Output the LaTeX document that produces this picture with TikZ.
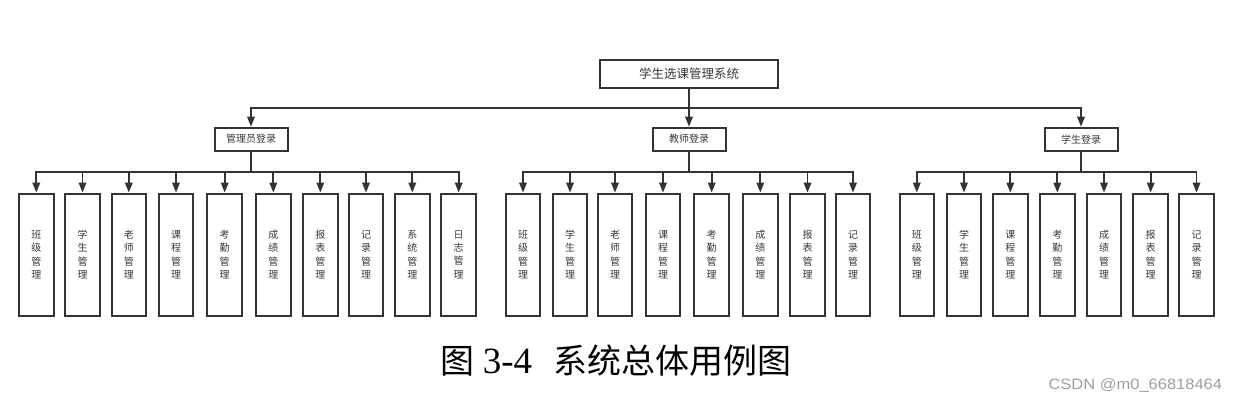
\documentclass[tikz,border=0pt]{standalone}
\usepackage{fontspec}
\setmainfont{Noto Sans CJK SC}
\newfontfamily\markfont[FakeStretch=1.1]{Liberation Sans}
\newfontfamily\capdigits{Liberation Serif}
\usetikzlibrary{arrows.meta}
\definecolor{linegray}{HTML}{333333}

\begin{document}
\begin{tikzpicture}[x=1pt,y=-1pt,->,>={Triangle[length=10pt,width=7.5pt]},draw=linegray,line width=1.8pt]
    \tikzstyle{box}=[draw=linegray,line width=2pt,rectangle,inner sep=0pt,text=black!78]
    \tikzstyle{root box}=[box,minimum width=178pt,minimum height=27.5pt,font=\fontsize{12.5}{14}\selectfont]
    \tikzstyle{login box}=[box,minimum width=73pt,minimum height=23pt,font=\fontsize{10}{12}\selectfont]
    \tikzstyle{leaf box}=[box,minimum width=34.5pt,minimum height=122pt,align=center,font=\fontsize{10}{13.3}\selectfont]
    \useasboundingbox (0,0) rectangle (1239,403);
    % Draw the root and the three login nodes
    \node[root box] (sys) at (689,74) {学生选课管理系统};
    \node[login box] (adm) at (251,139.2) {管理员登录};
    \node[login box] (tea) at (689,139.2) {教师登录};
    \node[login box] (stu) at (1081,139.2) {学生登录};
    \coordinate (sys-bus) at (689,107.7);
    \draw (sys.south) -- (tea.north);
    \draw (sys-bus) -| (adm.north);
    \draw (sys-bus) -| (stu.north);
    % Draw the leaf nodes of each login
    \coordinate (adm-bus) at (251,172);
    \coordinate (tea-bus) at (689,172);
    \coordinate (stu-bus) at (1081,172);
    \foreach \a/\b/\x [count=\i] in {班/级/36.3, 学/生/82.5, 老/师/128.8, 课/程/176, 考/勤/224.7,
                                      成/绩/273.3, 报/表/320.3, 记/录/366, 系/统/412.3, 日/志/458.7}
    {
        \node[leaf box] (A-\i) at (\x,254.6) {\a\\\b\\管\\理};
        \draw (adm.south) -- (adm-bus) -| (A-\i.north);
    }
    \foreach \a/\b/\x [count=\i] in {班/级/523, 学/生/570, 老/师/615, 课/程/663,
                                      考/勤/711.7, 成/绩/760.3, 报/表/807.5, 记/录/853}
    {
        \node[leaf box] (T-\i) at (\x,254.6) {\a\\\b\\管\\理};
        \draw (tea.south) -- (tea-bus) -| (T-\i.north);
    }
    \foreach \a/\b/\x [count=\i] in {班/级/916.8, 学/生/964, 课/程/1010.3, 考/勤/1057.3,
                                      成/绩/1104, 报/表/1150.7, 记/录/1196.5}
    {
        \node[leaf box] (S-\i) at (\x,254.6) {\a\\\b\\管\\理};
        \draw (stu.south) -- (stu-bus) -| (S-\i.north);
    }
    % Caption and mark
    \node[anchor=west,inner sep=0pt,font=\fontsize{34}{38}\selectfont] (caption) at (440,361)
        {图\hspace{8pt}{\capdigits\fontsize{37}{38}\selectfont 3-4}\hspace{21pt}系统总体用例图};
    \node[anchor=east,inner sep=0pt,text=black!38,font=\markfont\fontsize{15}{17}\selectfont] (mark) at (1223,385.5) {CSDN @m0\_66818464};
\end{tikzpicture}
\end{document}
